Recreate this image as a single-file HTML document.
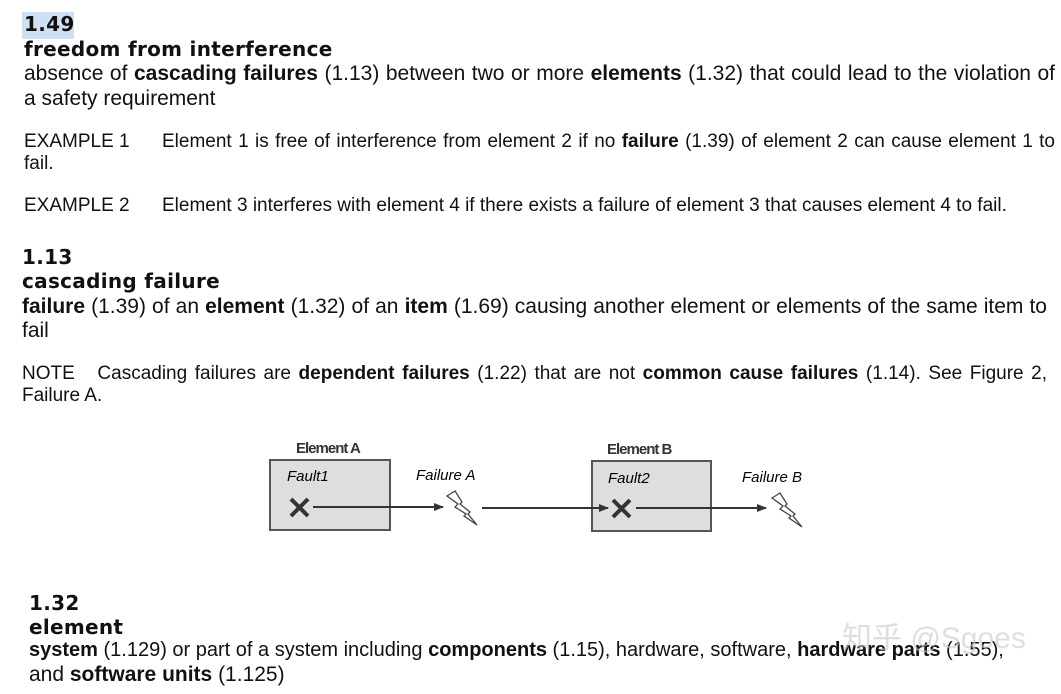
<!DOCTYPE html>
<html><head><meta charset="utf-8"><style>
body{margin:0;width:1061px;height:694px;background:#fff;position:relative;overflow:hidden;font-family:"Liberation Sans",Arial,sans-serif;color:#111}
.t{position:absolute;white-space:nowrap;line-height:1}
.j{text-align:justify;text-align-last:justify}
.h{font-family:"DejaVu Sans",Verdana,sans-serif;font-weight:bold;font-size:20px;letter-spacing:0.3px}
.b{font-size:21px}
.s{font-size:19px}
b{font-weight:bold}
.dg{font-family:"Liberation Sans",Arial,sans-serif;font-style:italic;font-size:15px;color:#555}
</style></head><body>
<div style="position:absolute;left:22px;top:12px;width:52px;height:27px;background:#cfe0f3"></div>
<div class="t h" style="left:24px;top:14px">1.49</div>
<div class="t h" style="left:24px;top:39px">freedom from interference</div>
<div class="t b j" style="left:24px;top:63px;width:1031px">absence of <b>cascading failures</b> (1.13) between two or more <b>elements</b> (1.32) that could lead to the violation of</div>
<div class="t b" style="left:24px;top:88px">a safety requirement</div>
<div class="t s" style="left:24px;top:132px">EXAMPLE 1</div>
<div class="t s j" style="left:162px;top:132px;width:893px">Element 1 is free of interference from element 2 if no <b>failure</b> (1.39) of element 2 can cause element 1 to</div>
<div class="t s" style="left:24px;top:154px">fail.</div>
<div class="t s" style="left:24px;top:196px">EXAMPLE 2</div>
<div class="t s" style="left:162px;top:196px">Element 3 interferes with element 4 if there exists a failure of element 3 that causes element 4 to fail.</div>
<div class="t h" style="left:22px;top:247px">1.13</div>
<div class="t h" style="left:22px;top:271px">cascading failure</div>
<div class="t b j" style="left:22px;top:296px;width:1025px"><b>failure</b> (1.39) of an <b>element</b> (1.32) of an <b>item</b> (1.69) causing another element or elements of the same item to</div>
<div class="t b" style="left:22px;top:320px">fail</div>
<div class="t s j" style="left:22px;top:364px;width:1025px">NOTE&nbsp;&nbsp;&nbsp;Cascading failures are <b>dependent failures</b> (1.22) that are not <b>common cause failures</b> (1.14). See Figure 2,</div>
<div class="t s" style="left:22px;top:386px">Failure A.</div>

<svg style="position:absolute;left:0;top:0" width="1061" height="694">
<defs><marker id="a" markerWidth="10" markerHeight="10" refX="9" refY="5" orient="auto" markerUnits="userSpaceOnUse"><path d="M0,1 L10,5 L0,9z" fill="#333"/></marker></defs>
<text x="296" y="453" font-family="Liberation Sans" font-weight="bold" font-size="15" fill="#333" letter-spacing="-1">Element A</text>
<text x="607" y="454" font-family="Liberation Sans" font-weight="bold" font-size="15" fill="#333" letter-spacing="-1">Element B</text>
<rect x="270" y="460" width="120" height="70" fill="#dedede" stroke="#555" stroke-width="2"/>
<rect x="592" y="461" width="119" height="70" fill="#dedede" stroke="#555" stroke-width="2"/>
<text x="287" y="481" class="dg">Fault1</text>
<text x="608" y="483" class="dg">Fault2</text>
<text x="416" y="480" class="dg">Failure A</text>
<text x="742" y="482" class="dg">Failure B</text>
<g stroke="#333" stroke-width="4"><path d="M291,499 L308,516 M308,499 L291,516"/><path d="M613,500 L630,517 M630,500 L613,517"/></g>
<g stroke="#333" stroke-width="2" marker-end="url(#a)"><line x1="313" y1="507" x2="443" y2="507"/><line x1="482" y1="508" x2="608" y2="508"/><line x1="636" y1="508" x2="766" y2="508"/></g>
<g fill="#fff" stroke="#444" stroke-width="1.3"><path d="M447,496 L455,491 L462,502 L460,504 L470,512 L468,514 L477,525 L464,516 L466,514 L455,507 L458,504z"/><path d="M772,498 L780,493 L787,504 L785,506 L795,514 L793,516 L802,527 L789,518 L791,516 L780,509 L783,506z"/></g>
</svg>

<div class="t h" style="left:29px;top:593px">1.32</div>
<div class="t h" style="left:29px;top:617px">element</div>
<div class="t b" style="left:29px;top:640px;font-size:20px">&#8203;<b>system</b> (1.129) or part of a system including <b>components</b> (1.15), hardware, software, <b>hardware parts</b> (1.55),</div>
<div class="t b" style="left:29px;top:664px">and <b>software units</b> (1.125)</div>
<div class="t" style="left:842px;top:624px;font-size:30px;color:rgba(200,200,200,0.6);font-family:'Liberation Sans','Noto Sans CJK SC',sans-serif">知乎 @Sgoes</div>
</body></html>
